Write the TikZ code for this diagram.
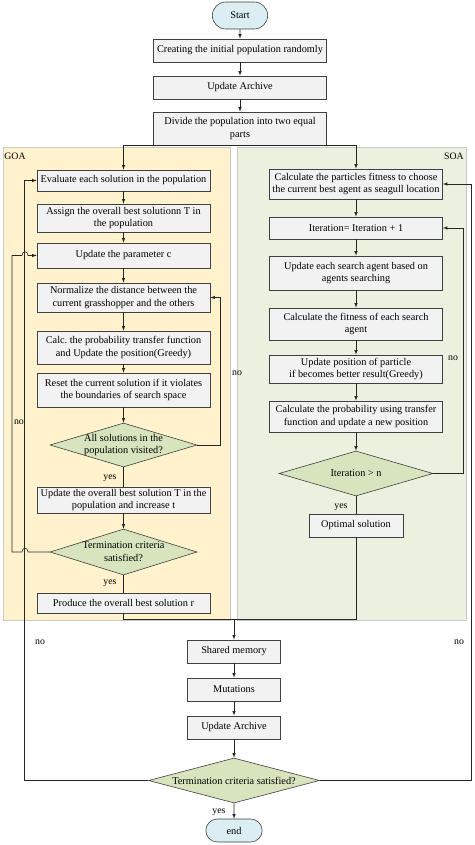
\documentclass[tikz,border=0pt]{standalone}
\usepackage{fontspec}
\setmainfont{Liberation Serif}
\usepackage{xcolor}
\usepackage{tikz}
\usetikzlibrary{shapes.geometric,shapes.misc,calc}

\definecolor{boxgray}{HTML}{F2F2F2}
\definecolor{decgreen}{HTML}{D7E4BD}
\definecolor{termblue}{HTML}{DAEEF3}
\definecolor{goafill}{HTML}{FFF2CC}
\definecolor{soafill}{HTML}{EBF1DE}
\definecolor{panelline}{HTML}{C8C8C8}

\begin{document}
\begin{tikzpicture} [x=1pt,y=-1pt,
  font=\fontsize{10.3}{12.8}\selectfont,
  procbox/.style={draw=black!75, fill=boxgray, minimum width=173pt, minimum height=23pt, align=center, inner sep=1pt, line width=0.6pt},
  smallbox/.style={procbox, minimum width=93pt},
  decision/.style={diamond, draw=black!75, fill=decgreen, inner sep=0pt, line width=0.6pt},
  terminal/.style={rounded rectangle, draw=black!75, fill=termblue, minimum width=62pt, minimum height=25pt, line width=0.6pt},
  arr/.style={-latex, black!85, line width=0.6pt},
  conn/.style={black!85, line width=0.6pt},
  lbl/.style={font=\fontsize{9.8}{11}\selectfont, inner sep=0pt}
]

\useasboundingbox (0,0) rectangle (474,845);

% the two panels
\draw[panelline, fill=goafill] (3,147) rectangle (230,620);
\draw[panelline, fill=soafill] (237,147) rectangle (466,620);
\node[lbl] (goa) at (15,156) {GOA};
\node[lbl] (soa) at (454,156) {SOA};

% main column, top
\node[terminal, minimum height=27pt] (start) at (240,15.5) {Start};
\node[procbox] (create) at (240,50.5) {Creating the initial population randomly};
\node[procbox] (archA) at (240,87.5) {Update Archive};
\node[procbox, minimum height=33pt] (divide) at (240,128.5) {Divide the population into two equal\\parts};

% GOA column
\node[procbox, minimum height=21pt] (evaluate) at (123.5,180.5) {Evaluate each solution in the population};
\node[procbox, minimum height=28pt] (assign) at (123.5,218) {Assign the overall best solutionn T in\\the population};
\node[procbox, minimum height=25pt] (paramc) at (123.5,255.5) {Update the parameter c};
\node[procbox, minimum height=29pt] (normalize) at (123.5,297.5) {Normalize the distance between the\\current grasshopper and the others};
\node[procbox, minimum height=33pt] (calc) at (123.5,347.5) {Calc.\ the probability transfer function\\and Update the position(Greedy)};
\node[procbox, minimum height=34pt] (reset) at (123.5,390) {Reset the current solution if it violates\\the boundaries of search space};
\node[decision, minimum width=147pt, minimum height=44pt,
  label={[align=center]center:All solutions in the\\population visited?}] (visited) at (123.5,445) {};
\node[procbox, minimum height=26pt] (updbest) at (123.5,500) {Update the overall best solution T in the\\population and increase t};
\node[decision, minimum width=147pt, minimum height=46pt,
  label={[align=center]center:Termination criteria\\satisfied?}] (termA) at (123.5,552) {};
\node[procbox, minimum height=20pt] (produce) at (123.5,603) {Produce the overall best solution r};

% SOA column
\node[procbox, minimum height=30pt] (partfit) at (356,184) {Calculate the particles fitness to choose\\the current best agent as seagull location};
\node[procbox, minimum height=22pt] (iter) at (356,228) {Iteration= Iteration + 1};
\node[procbox, minimum height=34pt] (updagent) at (356,273) {Update each search agent based on\\agents searching};
\node[procbox, minimum height=32pt] (fitness) at (356,324) {Calculate the fitness of each search\\agent};
\node[procbox, minimum height=28pt] (updpos) at (356,369) {Update position of particle\\if becomes better result(Greedy)};
\node[procbox, minimum height=31pt] (prob) at (356,416.5) {Calculate the probability using transfer\\function and update a new position};
\node[decision, minimum width=154pt, minimum height=45pt,
  label=center:{Iteration > n}] (itdec) at (356,473.5) {};
\node[procbox, minimum width=94pt, minimum height=23pt] (optimal) at (356,525.5) {Optimal solution};

% main column, bottom
\coordinate (merge) at (234,619);
\node[smallbox] (shared) at (234,651.5) {Shared memory};
\node[smallbox] (mutate) at (234,689.5) {Mutations};
\node[smallbox] (archB) at (234,727.5) {Update Archive};
\node[decision, minimum width=171pt, minimum height=45pt,
  label=center:{Termination criteria satisfied?}] (termB) at (234,780.5) {};
\node[terminal, minimum width=63pt, minimum height=23pt] (end) at (234,830.5) {end};

% labels
\node[lbl] (yesA) at (110,478) {yes};
\node[lbl] (yesB) at (110,583) {yes};
\node[lbl] (yesC) at (341,507) {yes};
\node[lbl] (yesD) at (219,812) {yes};
\node[lbl] (noA) at (19,422) {no};
\node[lbl] (noB) at (237,373) {no};
\node[lbl] (noC) at (453,358) {no};
\node[lbl] (noD) at (40,642) {no};
\node[lbl] (noE) at (459,642) {no};

% top connectors
\draw[arr] (start) -- (create);
\draw[arr] (create) -- (archA);
\draw[arr] (archA) -- (divide);
\draw[arr] (divide.south) -| (evaluate.north);
\draw[arr] (divide.south) -| (partfit.north);

% GOA connectors
\draw[arr] (evaluate) -- (assign);
\draw[arr] (assign) -- (paramc);
\draw[arr] (paramc) -- (normalize);
\draw[arr] (normalize) -- (calc);
\draw[arr] (calc) -- (reset);
\draw[arr] (reset) -- (visited);
\draw[conn] (visited) -- (updbest);
\draw[arr] (updbest) -- (termA);
\draw[conn] (termA) -- (produce);
\draw[arr] (visited.east) -- ++(23,0) |- (normalize.east);
\draw[arr] (termA.west) -- (28,552) .. controls (28,547) and (22,547) .. (22,552) -- (12,552)
  |- (22,255.5) .. controls (22,250.5) and (28,250.5) .. (28,255.5) -- (paramc.west);

% SOA connectors
\draw[arr] (partfit) -- (iter);
\draw[arr] (iter) -- (updagent);
\draw[arr] (updagent) -- (fitness);
\draw[arr] (fitness) -- (updpos);
\draw[arr] (updpos) -- (prob);
\draw[arr] (prob) -- (itdec);
\draw[conn] (itdec) -- (optimal);
\draw[arr] (itdec.east) -| ([xshift=20pt]iter.east) -- (iter.east);

% merge and bottom
\draw[conn] (produce.south) |- (merge);
\draw[conn] (optimal.south) |- (merge);
\draw[arr] (merge) -- (shared);
\draw[arr] (shared) -- (mutate);
\draw[arr] (mutate) -- (archB);
\draw[arr] (archB) -- (termB);
\draw[arr] (termB) -- (end);
\draw[arr] (termB.west) -| ([xshift=-12pt]evaluate.west) -- (evaluate.west);
\draw[arr] (termB.east) -| ([xshift=28pt]partfit.east) -- (partfit.east);

\end{tikzpicture}
\end{document}
